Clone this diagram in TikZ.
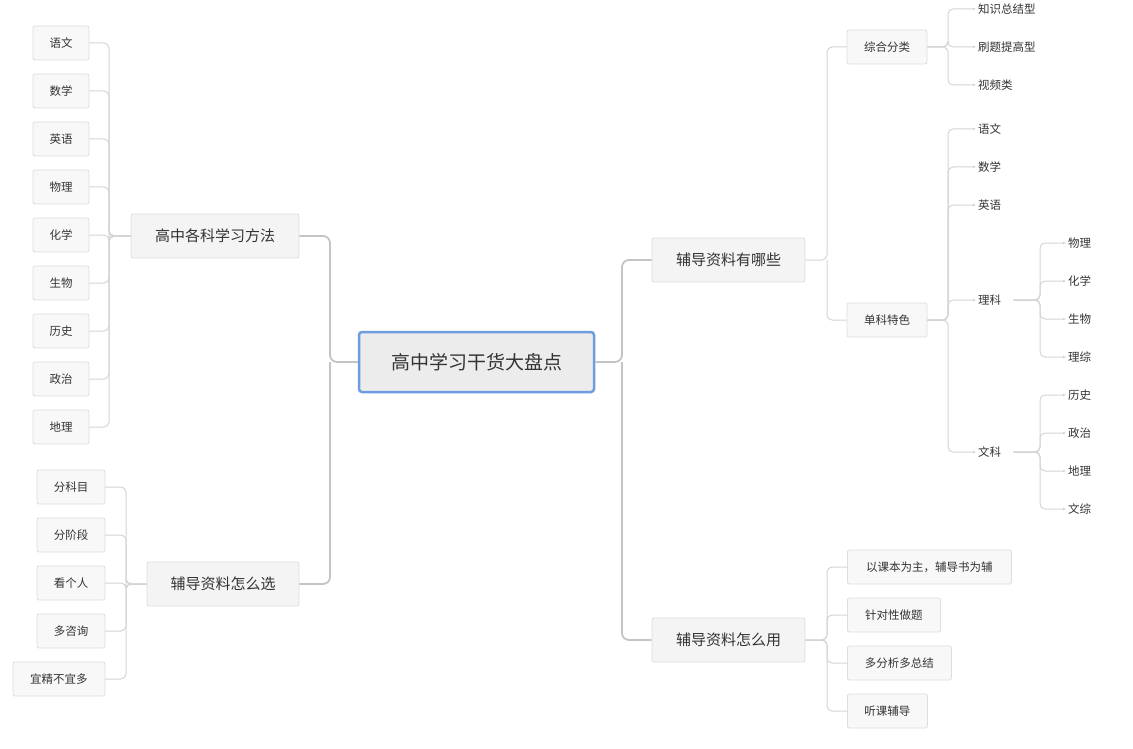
\documentclass[tikz,border=0pt]{standalone}
\usepackage{fontspec}
\setmainfont{Noto Sans CJK SC}
\usetikzlibrary{arrows.meta}
\definecolor{bfill}{HTML}{F4F4F4}
\definecolor{lfill}{HTML}{F8F8F8}
\definecolor{bline}{HTML}{DDDDDD}
\definecolor{cline}{HTML}{D4D4D4}
\definecolor{tline}{HTML}{C4C4C4}
\definecolor{txt}{HTML}{333333}
\definecolor{rootb}{HTML}{6D9DE0}
\begin{document}
\begin{tikzpicture}[x=1pt,y=-1pt,
  leaf/.style={draw=bline,fill=lfill,rounded corners=2,minimum height=34,inner xsep=7,text=txt,font=\fontsize{11.5}{12}\selectfont,line width=0.8},
  br/.style={draw=bline,fill=bfill,rounded corners=2,minimum height=44,inner xsep=20,text=txt,font=\fontsize{15}{16}\selectfont,line width=0.8},
  tx/.style={text=txt,font=\fontsize{11.5}{12}\selectfont,inner sep=2,anchor=west},
  con/.style={draw=cline,line width=1,rounded corners=5},
  trunk/.style={draw=tline,line width=1.8,rounded corners=7},
  arr/.style={con,-{Latex[length=3,width=3]}}]
\useasboundingbox (0,0) rectangle (1133,749);
% root
\node[draw=rootb,line width=2.5,fill=gray!15,rounded corners=3,minimum width=235,minimum height=60,text=txt,font=\fontsize{19}{20}\selectfont] (root) at (476.5,362) {高中学习干货大盘点};
% left branches
\node[br,minimum width=168] (b1) at (215,236) {高中各科学习方法};
\node[br,minimum width=152] (b2) at (223,584) {辅导资料怎么选};
\node[br,minimum width=153] (b3) at (728.5,260) {辅导资料有哪些};
\node[br,minimum width=153] (b4) at (728.5,640) {辅导资料怎么用};
\coordinate (tl) at (330,362);
\coordinate (tr) at (622,362);
\draw[trunk] (root.west) -- (tl) |- (b1.east);
\draw[trunk] (tl) |- (b2.east);
\draw[trunk] (root.east) -- (tr) |- (b3.west);
\draw[trunk] (tr) |- (b4.west);
% left group 1
\coordinate (j1) at (109,236);
\foreach \t [count=\i] in {语文,数学,英语,物理,化学,生物,历史,政治,地理}{
  \node[leaf,minimum width=56] (l\i) at (61,{43+48*(\i-1)}) {\t};
  \draw[con] (b1.west) -- (j1) |- (l\i.east);
}
% left group 2
\coordinate (j2) at (126,584);
\foreach \t/\w/\x [count=\i] in {分科目/68/71,分阶段/68/71,看个人/68/71,多咨询/68/71,宜精不宜多/92/59}{
  \node[leaf,minimum width=\w] (m\i) at (\x,{487+48*(\i-1)}) {\t};
  \draw[con] (b2.west) -- (j2) |- (m\i.east);
}
% right branch 3
\coordinate (j3) at (827,260);
\node[leaf,minimum width=80] (c1) at (887,47) {综合分类};
\node[leaf,minimum width=80] (c2) at (887,320) {单科特色};
\draw[con] (b3.east) -- (j3) |- (c1.west);
\draw[con] (j3) |- (c2.west);
\coordinate (j4) at (948,47);
\foreach \t/\y [count=\i] in {知识总结型/9,刷题提高型/47,视频类/85}{
  \node[tx] (d\i) at (976,\y) {\t};
  \draw[arr] (c1.east) -- (j4) |- (d\i.west);
}
\coordinate (j5) at (948,320);
\foreach \t/\y [count=\i] in {语文/129,数学/167,英语/205,理科/300,文科/452}{
  \node[tx] (e\i) at (976,\y) {\t};
  \draw[arr] (c2.east) -- (j5) |- (e\i.west);
}
\coordinate (j6) at (1040,300);
\foreach \t/\y [count=\i] in {物理/243,化学/281,生物/319,理综/357}{
  \node[tx] (f\i) at (1066,\y) {\t};
  \draw[arr] ([xshift=10]e4.east) -- (j6) |- (f\i.west);
}
\coordinate (j7) at (1040,452);
\foreach \t/\y [count=\i] in {历史/395,政治/433,地理/471,文综/509}{
  \node[tx] (g\i) at (1066,\y) {\t};
  \draw[arr] ([xshift=10]e5.east) -- (j7) |- (g\i.west);
}
% right branch 4
\coordinate (j8) at (827,640);
\foreach \t/\w/\y [count=\i] in {以课本为主，辅导书为辅/164/567,针对性做题/93/615,多分析多总结/104/663,听课辅导/80/711}{
  \node[leaf,minimum width=\w,anchor=west] (h\i) at (847,\y) {\t};
  \draw[con] (b4.east) -- (j8) |- (h\i.west);
}
\end{tikzpicture}
\end{document}
